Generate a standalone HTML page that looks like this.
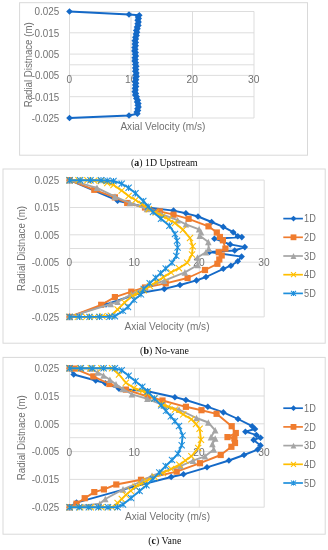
<!DOCTYPE html>
<html><head><meta charset="utf-8"><title>Figure</title>
<style>
html,body{margin:0;padding:0;background:#fff;}
svg{display:block;}
svg text{font-family:"Liberation Sans",sans-serif;fill:#727272;}
</style></head><body>
<svg width="328" height="550" viewBox="0 0 328 550">
<rect width="328" height="550" fill="#fff"/>
<rect x="19.6" y="2.7" width="287.9" height="152.5" fill="#fff" stroke="#d9d9d9" stroke-width="1"/>
<line x1="69.5" y1="11.5" x2="254.0" y2="11.5" stroke="#d9d9d9" stroke-width="0.9"/>
<line x1="69.5" y1="32.8" x2="254.0" y2="32.8" stroke="#d9d9d9" stroke-width="0.9"/>
<line x1="69.5" y1="54.1" x2="254.0" y2="54.1" stroke="#d9d9d9" stroke-width="0.9"/>
<line x1="69.5" y1="75.4" x2="254.0" y2="75.4" stroke="#d9d9d9" stroke-width="0.9"/>
<line x1="69.5" y1="96.7" x2="254.0" y2="96.7" stroke="#d9d9d9" stroke-width="0.9"/>
<line x1="69.5" y1="118.0" x2="254.0" y2="118.0" stroke="#d9d9d9" stroke-width="0.9"/>
<line x1="69.5" y1="64.8" x2="254.0" y2="64.8" stroke="#d9d9d9" stroke-width="0.9"/>
<line x1="69.5" y1="11.5" x2="69.5" y2="118.0" stroke="#d9d9d9" stroke-width="0.9"/>
<line x1="131.0" y1="11.5" x2="131.0" y2="118.0" stroke="#d9d9d9" stroke-width="0.9"/>
<line x1="192.5" y1="11.5" x2="192.5" y2="118.0" stroke="#d9d9d9" stroke-width="0.9"/>
<line x1="254.0" y1="11.5" x2="254.0" y2="118.0" stroke="#d9d9d9" stroke-width="0.9"/>
<text x="59.3" y="15.2" text-anchor="end" font-size="10.20" textLength="24.7" lengthAdjust="spacingAndGlyphs">0.025</text>
<text x="59.3" y="36.5" text-anchor="end" font-size="10.20" textLength="24.7" lengthAdjust="spacingAndGlyphs">0.015</text>
<text x="59.3" y="57.9" text-anchor="end" font-size="10.20" textLength="24.7" lengthAdjust="spacingAndGlyphs">0.005</text>
<text x="59.3" y="79.2" text-anchor="end" font-size="10.20" textLength="27.6" lengthAdjust="spacingAndGlyphs">-0.005</text>
<text x="59.3" y="100.5" text-anchor="end" font-size="10.20" textLength="27.6" lengthAdjust="spacingAndGlyphs">-0.015</text>
<text x="59.3" y="121.8" text-anchor="end" font-size="10.20" textLength="27.6" lengthAdjust="spacingAndGlyphs">-0.025</text>
<text x="69.2" y="82.7" text-anchor="middle" font-size="10.20" textLength="5.6" lengthAdjust="spacingAndGlyphs">0</text>
<text x="130.7" y="82.7" text-anchor="middle" font-size="10.20" textLength="11.4" lengthAdjust="spacingAndGlyphs">10</text>
<text x="192.2" y="82.7" text-anchor="middle" font-size="10.20" textLength="11.4" lengthAdjust="spacingAndGlyphs">20</text>
<text x="253.7" y="82.7" text-anchor="middle" font-size="10.20" textLength="11.4" lengthAdjust="spacingAndGlyphs">30</text>
<text x="120.4" y="130.3" text-anchor="start" font-size="10.20" textLength="85.0" lengthAdjust="spacingAndGlyphs">Axial Velocity (m/s)</text>
<text transform="translate(31.6 64.8) rotate(-90)" text-anchor="middle" font-size="10.20" textLength="85" lengthAdjust="spacingAndGlyphs">Radial Distnace (m)</text>
<polyline fill="none" stroke="#1469c7" stroke-width="1.90" stroke-linejoin="round" stroke-linecap="round" points="69.5,11.5 129.0,14.5 139.3,15.2 138.0,16.9 138.7,18.6 137.6,20.3 138.6,22.0 137.6,23.7 138.4,25.4 137.0,27.1 137.5,28.8 136.2,30.5 137.1,32.2 135.9,33.9 136.6,35.6 135.3,37.3 135.9,39.0 134.7,40.7 135.8,42.4 134.8,44.1 135.7,45.8 134.6,47.5 135.4,49.2 134.4,50.9 135.7,52.6 134.9,54.3 135.9,56.0 134.7,57.7 135.5,59.4 134.6,61.1 135.9,62.8 135.2,64.5 136.3,66.2 135.2,67.9 136.1,69.6 135.2,71.3 136.4,73.0 135.7,74.7 136.6,76.4 135.4,78.1 136.1,79.8 135.0,81.5 136.1,83.2 135.2,84.9 136.1,86.6 134.9,88.3 135.6,90.0 134.7,91.7 135.9,93.4 135.2,95.1 136.8,96.8 136.3,98.5 137.9,100.2 137.1,101.9 138.4,103.6 137.7,105.3 138.6,107.0 137.4,108.7 138.0,110.4 136.8,112.1 137.4,113.8 129.0,115.5 69.5,118.0"/>
<path fill="#1469c7" d="M66.2 11.5L69.5 8.2L72.8 11.5L69.5 14.8Z"/>
<path fill="#1469c7" d="M125.7 14.5L129.0 11.2L132.3 14.5L129.0 17.8Z"/>
<path fill="#1469c7" d="M136.0 15.2L139.3 11.9L142.6 15.2L139.3 18.5Z"/>
<path fill="#1469c7" d="M134.7 16.9L138.0 13.6L141.3 16.9L138.0 20.2Z"/>
<path fill="#1469c7" d="M135.4 18.6L138.7 15.3L142.0 18.6L138.7 21.9Z"/>
<path fill="#1469c7" d="M134.3 20.3L137.6 17.0L140.9 20.3L137.6 23.6Z"/>
<path fill="#1469c7" d="M135.3 22.0L138.6 18.7L141.9 22.0L138.6 25.3Z"/>
<path fill="#1469c7" d="M134.3 23.7L137.6 20.4L140.9 23.7L137.6 27.0Z"/>
<path fill="#1469c7" d="M135.1 25.4L138.4 22.1L141.7 25.4L138.4 28.7Z"/>
<path fill="#1469c7" d="M133.7 27.1L137.0 23.8L140.3 27.1L137.0 30.4Z"/>
<path fill="#1469c7" d="M134.2 28.8L137.5 25.5L140.8 28.8L137.5 32.1Z"/>
<path fill="#1469c7" d="M132.9 30.5L136.2 27.2L139.5 30.5L136.2 33.8Z"/>
<path fill="#1469c7" d="M133.8 32.2L137.1 28.9L140.4 32.2L137.1 35.5Z"/>
<path fill="#1469c7" d="M132.6 33.9L135.9 30.6L139.2 33.9L135.9 37.2Z"/>
<path fill="#1469c7" d="M133.3 35.6L136.6 32.3L139.9 35.6L136.6 38.9Z"/>
<path fill="#1469c7" d="M132.0 37.3L135.3 34.0L138.6 37.3L135.3 40.6Z"/>
<path fill="#1469c7" d="M132.6 39.0L135.9 35.7L139.2 39.0L135.9 42.3Z"/>
<path fill="#1469c7" d="M131.4 40.7L134.7 37.4L138.0 40.7L134.7 44.0Z"/>
<path fill="#1469c7" d="M132.5 42.4L135.8 39.1L139.1 42.4L135.8 45.7Z"/>
<path fill="#1469c7" d="M131.5 44.1L134.8 40.8L138.1 44.1L134.8 47.4Z"/>
<path fill="#1469c7" d="M132.4 45.8L135.7 42.5L139.0 45.8L135.7 49.1Z"/>
<path fill="#1469c7" d="M131.2 47.5L134.6 44.2L137.9 47.5L134.6 50.8Z"/>
<path fill="#1469c7" d="M132.1 49.2L135.4 45.9L138.7 49.2L135.4 52.5Z"/>
<path fill="#1469c7" d="M131.1 50.9L134.4 47.6L137.7 50.9L134.4 54.2Z"/>
<path fill="#1469c7" d="M132.4 52.6L135.7 49.3L139.0 52.6L135.7 55.9Z"/>
<path fill="#1469c7" d="M131.6 54.3L134.9 51.0L138.2 54.3L134.9 57.6Z"/>
<path fill="#1469c7" d="M132.6 56.0L135.9 52.7L139.2 56.0L135.9 59.3Z"/>
<path fill="#1469c7" d="M131.4 57.7L134.7 54.4L138.0 57.7L134.7 61.0Z"/>
<path fill="#1469c7" d="M132.2 59.4L135.5 56.1L138.8 59.4L135.5 62.7Z"/>
<path fill="#1469c7" d="M131.3 61.1L134.6 57.8L137.9 61.1L134.6 64.4Z"/>
<path fill="#1469c7" d="M132.6 62.8L135.9 59.5L139.2 62.8L135.9 66.1Z"/>
<path fill="#1469c7" d="M131.9 64.5L135.2 61.2L138.5 64.5L135.2 67.8Z"/>
<path fill="#1469c7" d="M133.0 66.2L136.3 62.9L139.6 66.2L136.3 69.5Z"/>
<path fill="#1469c7" d="M131.9 67.9L135.2 64.6L138.5 67.9L135.2 71.2Z"/>
<path fill="#1469c7" d="M132.8 69.6L136.1 66.3L139.4 69.6L136.1 72.9Z"/>
<path fill="#1469c7" d="M131.9 71.3L135.2 68.0L138.5 71.3L135.2 74.6Z"/>
<path fill="#1469c7" d="M133.1 73.0L136.4 69.7L139.7 73.0L136.4 76.3Z"/>
<path fill="#1469c7" d="M132.4 74.7L135.7 71.4L139.0 74.7L135.7 78.0Z"/>
<path fill="#1469c7" d="M133.3 76.4L136.6 73.1L139.9 76.4L136.6 79.7Z"/>
<path fill="#1469c7" d="M132.1 78.1L135.4 74.8L138.7 78.1L135.4 81.4Z"/>
<path fill="#1469c7" d="M132.8 79.8L136.1 76.5L139.4 79.8L136.1 83.1Z"/>
<path fill="#1469c7" d="M131.7 81.5L135.0 78.2L138.3 81.5L135.0 84.8Z"/>
<path fill="#1469c7" d="M132.8 83.2L136.1 79.9L139.4 83.2L136.1 86.5Z"/>
<path fill="#1469c7" d="M131.9 84.9L135.2 81.6L138.5 84.9L135.2 88.2Z"/>
<path fill="#1469c7" d="M132.8 86.6L136.1 83.3L139.4 86.6L136.1 89.9Z"/>
<path fill="#1469c7" d="M131.6 88.3L134.9 85.0L138.2 88.3L134.9 91.6Z"/>
<path fill="#1469c7" d="M132.3 90.0L135.6 86.7L138.9 90.0L135.6 93.3Z"/>
<path fill="#1469c7" d="M131.4 91.7L134.7 88.4L138.0 91.7L134.7 95.0Z"/>
<path fill="#1469c7" d="M132.6 93.4L135.9 90.1L139.2 93.4L135.9 96.7Z"/>
<path fill="#1469c7" d="M131.9 95.1L135.2 91.8L138.5 95.1L135.2 98.4Z"/>
<path fill="#1469c7" d="M133.5 96.8L136.8 93.5L140.1 96.8L136.8 100.1Z"/>
<path fill="#1469c7" d="M133.0 98.5L136.3 95.2L139.6 98.5L136.3 101.8Z"/>
<path fill="#1469c7" d="M134.6 100.2L137.9 96.9L141.2 100.2L137.9 103.5Z"/>
<path fill="#1469c7" d="M133.8 101.9L137.1 98.6L140.4 101.9L137.1 105.2Z"/>
<path fill="#1469c7" d="M135.1 103.6L138.4 100.3L141.7 103.6L138.4 106.9Z"/>
<path fill="#1469c7" d="M134.4 105.3L137.7 102.0L141.0 105.3L137.7 108.6Z"/>
<path fill="#1469c7" d="M135.3 107.0L138.6 103.7L141.9 107.0L138.6 110.3Z"/>
<path fill="#1469c7" d="M134.1 108.7L137.4 105.4L140.7 108.7L137.4 112.0Z"/>
<path fill="#1469c7" d="M134.7 110.4L138.0 107.1L141.3 110.4L138.0 113.7Z"/>
<path fill="#1469c7" d="M133.4 112.1L136.8 108.8L140.1 112.1L136.8 115.4Z"/>
<path fill="#1469c7" d="M134.1 113.8L137.4 110.5L140.7 113.8L137.4 117.1Z"/>
<path fill="#1469c7" d="M125.7 115.5L129.0 112.2L132.3 115.5L129.0 118.8Z"/>
<path fill="#1469c7" d="M66.2 118.0L69.5 114.7L72.8 118.0L69.5 121.3Z"/>
<rect x="3.0" y="169.0" width="322.2" height="174.2" fill="#fff" stroke="#d9d9d9" stroke-width="1"/>
<line x1="69.6" y1="180.1" x2="264.2" y2="180.1" stroke="#d9d9d9" stroke-width="0.9"/>
<line x1="69.6" y1="207.5" x2="264.2" y2="207.5" stroke="#d9d9d9" stroke-width="0.9"/>
<line x1="69.6" y1="234.8" x2="264.2" y2="234.8" stroke="#d9d9d9" stroke-width="0.9"/>
<line x1="69.6" y1="262.2" x2="264.2" y2="262.2" stroke="#d9d9d9" stroke-width="0.9"/>
<line x1="69.6" y1="289.5" x2="264.2" y2="289.5" stroke="#d9d9d9" stroke-width="0.9"/>
<line x1="69.6" y1="316.9" x2="264.2" y2="316.9" stroke="#d9d9d9" stroke-width="0.9"/>
<line x1="69.6" y1="248.5" x2="264.2" y2="248.5" stroke="#d9d9d9" stroke-width="0.9"/>
<line x1="69.6" y1="180.1" x2="69.6" y2="316.9" stroke="#d9d9d9" stroke-width="0.9"/>
<line x1="134.5" y1="180.1" x2="134.5" y2="316.9" stroke="#d9d9d9" stroke-width="0.9"/>
<line x1="199.3" y1="180.1" x2="199.3" y2="316.9" stroke="#d9d9d9" stroke-width="0.9"/>
<line x1="264.2" y1="180.1" x2="264.2" y2="316.9" stroke="#d9d9d9" stroke-width="0.9"/>
<text x="59.3" y="183.8" text-anchor="end" font-size="10.20" textLength="24.7" lengthAdjust="spacingAndGlyphs">0.025</text>
<text x="59.3" y="211.2" text-anchor="end" font-size="10.20" textLength="24.7" lengthAdjust="spacingAndGlyphs">0.015</text>
<text x="59.3" y="238.6" text-anchor="end" font-size="10.20" textLength="24.7" lengthAdjust="spacingAndGlyphs">0.005</text>
<text x="59.3" y="265.9" text-anchor="end" font-size="10.20" textLength="27.6" lengthAdjust="spacingAndGlyphs">-0.005</text>
<text x="59.3" y="293.3" text-anchor="end" font-size="10.20" textLength="27.6" lengthAdjust="spacingAndGlyphs">-0.015</text>
<text x="59.3" y="320.6" text-anchor="end" font-size="10.20" textLength="27.6" lengthAdjust="spacingAndGlyphs">-0.025</text>
<text x="69.3" y="266.4" text-anchor="middle" font-size="10.20" textLength="5.6" lengthAdjust="spacingAndGlyphs">0</text>
<text x="134.2" y="266.4" text-anchor="middle" font-size="10.20" textLength="11.4" lengthAdjust="spacingAndGlyphs">10</text>
<text x="199.0" y="266.4" text-anchor="middle" font-size="10.20" textLength="11.4" lengthAdjust="spacingAndGlyphs">20</text>
<text x="263.9" y="266.4" text-anchor="middle" font-size="10.20" textLength="11.4" lengthAdjust="spacingAndGlyphs">30</text>
<text x="124.5" y="329.7" text-anchor="start" font-size="10.20" textLength="85.0" lengthAdjust="spacingAndGlyphs">Axial Velocity (m/s)</text>
<text transform="translate(24.7 248.5) rotate(-90)" text-anchor="middle" font-size="10.20" textLength="85" lengthAdjust="spacingAndGlyphs">Radial Distnace (m)</text>
<polyline fill="none" stroke="#1469c7" stroke-width="1.90" stroke-linejoin="round" stroke-linecap="round" points="69.6,180.2 117.6,200.7 147.4,207.5 173.5,210.6 185.9,213.3 198.0,216.5 211.6,222.0 223.3,226.9 233.2,232.2 237.8,236.3 241.8,237.1 214.4,238.7 230.2,244.4 244.8,247.1 234.7,250.5 209.5,252.0 241.6,256.6 237.8,261.2 230.9,265.7 223.3,268.8 206.0,277.0 196.5,280.4 180.0,285.0 164.3,288.9 140.0,293.0 106.0,304.5 69.6,316.9"/>
<path fill="#1469c7" d="M66.3 180.2L69.6 176.9L72.9 180.2L69.6 183.5Z"/>
<path fill="#1469c7" d="M114.3 200.7L117.6 197.4L120.9 200.7L117.6 204.0Z"/>
<path fill="#1469c7" d="M144.1 207.5L147.4 204.2L150.7 207.5L147.4 210.8Z"/>
<path fill="#1469c7" d="M170.2 210.6L173.5 207.3L176.8 210.6L173.5 213.9Z"/>
<path fill="#1469c7" d="M182.6 213.3L185.9 210.0L189.2 213.3L185.9 216.6Z"/>
<path fill="#1469c7" d="M194.7 216.5L198.0 213.2L201.3 216.5L198.0 219.8Z"/>
<path fill="#1469c7" d="M208.3 222.0L211.6 218.7L214.9 222.0L211.6 225.3Z"/>
<path fill="#1469c7" d="M220.0 226.9L223.3 223.6L226.6 226.9L223.3 230.2Z"/>
<path fill="#1469c7" d="M229.9 232.2L233.2 228.9L236.5 232.2L233.2 235.5Z"/>
<path fill="#1469c7" d="M234.5 236.3L237.8 233.0L241.1 236.3L237.8 239.6Z"/>
<path fill="#1469c7" d="M238.5 237.1L241.8 233.8L245.1 237.1L241.8 240.4Z"/>
<path fill="#1469c7" d="M211.1 238.7L214.4 235.4L217.7 238.7L214.4 242.0Z"/>
<path fill="#1469c7" d="M226.9 244.4L230.2 241.1L233.5 244.4L230.2 247.7Z"/>
<path fill="#1469c7" d="M241.5 247.1L244.8 243.8L248.1 247.1L244.8 250.4Z"/>
<path fill="#1469c7" d="M231.4 250.5L234.7 247.2L238.0 250.5L234.7 253.8Z"/>
<path fill="#1469c7" d="M206.2 252.0L209.5 248.7L212.8 252.0L209.5 255.3Z"/>
<path fill="#1469c7" d="M238.3 256.6L241.6 253.3L244.9 256.6L241.6 259.9Z"/>
<path fill="#1469c7" d="M234.5 261.2L237.8 257.9L241.1 261.2L237.8 264.5Z"/>
<path fill="#1469c7" d="M227.6 265.7L230.9 262.4L234.2 265.7L230.9 269.0Z"/>
<path fill="#1469c7" d="M220.0 268.8L223.3 265.5L226.6 268.8L223.3 272.1Z"/>
<path fill="#1469c7" d="M202.7 277.0L206.0 273.7L209.3 277.0L206.0 280.3Z"/>
<path fill="#1469c7" d="M193.2 280.4L196.5 277.1L199.8 280.4L196.5 283.7Z"/>
<path fill="#1469c7" d="M176.7 285.0L180.0 281.7L183.3 285.0L180.0 288.3Z"/>
<path fill="#1469c7" d="M161.0 288.9L164.3 285.6L167.6 288.9L164.3 292.2Z"/>
<path fill="#1469c7" d="M136.7 293.0L140.0 289.7L143.3 293.0L140.0 296.3Z"/>
<path fill="#1469c7" d="M102.7 304.5L106.0 301.2L109.3 304.5L106.0 307.8Z"/>
<path fill="#1469c7" d="M66.3 316.9L69.6 313.6L72.9 316.9L69.6 320.2Z"/>
<polyline fill="none" stroke="#f07c2e" stroke-width="1.90" stroke-linejoin="round" stroke-linecap="round" points="69.6,180.2 94.3,189.8 114.9,197.4 127.2,203.0 145.0,207.5 159.8,211.4 173.5,214.7 188.6,218.8 208.5,226.3 216.8,232.5 219.9,237.0 222.9,240.3 225.4,248.6 218.7,252.2 221.7,255.5 219.3,259.5 217.4,263.8 205.0,270.0 187.6,278.0 165.7,283.4 145.0,287.5 131.3,291.7 114.9,297.1 101.2,304.8 69.6,316.9"/>
<rect fill="#f07c2e" x="66.5" y="177.1" width="6.2" height="6.2"/>
<rect fill="#f07c2e" x="91.2" y="186.7" width="6.2" height="6.2"/>
<rect fill="#f07c2e" x="111.8" y="194.3" width="6.2" height="6.2"/>
<rect fill="#f07c2e" x="124.1" y="199.9" width="6.2" height="6.2"/>
<rect fill="#f07c2e" x="141.9" y="204.4" width="6.2" height="6.2"/>
<rect fill="#f07c2e" x="156.7" y="208.3" width="6.2" height="6.2"/>
<rect fill="#f07c2e" x="170.4" y="211.6" width="6.2" height="6.2"/>
<rect fill="#f07c2e" x="185.5" y="215.7" width="6.2" height="6.2"/>
<rect fill="#f07c2e" x="205.4" y="223.2" width="6.2" height="6.2"/>
<rect fill="#f07c2e" x="213.7" y="229.4" width="6.2" height="6.2"/>
<rect fill="#f07c2e" x="216.8" y="233.9" width="6.2" height="6.2"/>
<rect fill="#f07c2e" x="219.8" y="237.2" width="6.2" height="6.2"/>
<rect fill="#f07c2e" x="222.3" y="245.5" width="6.2" height="6.2"/>
<rect fill="#f07c2e" x="215.6" y="249.1" width="6.2" height="6.2"/>
<rect fill="#f07c2e" x="218.6" y="252.4" width="6.2" height="6.2"/>
<rect fill="#f07c2e" x="216.2" y="256.4" width="6.2" height="6.2"/>
<rect fill="#f07c2e" x="214.3" y="260.7" width="6.2" height="6.2"/>
<rect fill="#f07c2e" x="201.9" y="266.9" width="6.2" height="6.2"/>
<rect fill="#f07c2e" x="184.5" y="274.9" width="6.2" height="6.2"/>
<rect fill="#f07c2e" x="162.6" y="280.3" width="6.2" height="6.2"/>
<rect fill="#f07c2e" x="141.9" y="284.4" width="6.2" height="6.2"/>
<rect fill="#f07c2e" x="128.2" y="288.6" width="6.2" height="6.2"/>
<rect fill="#f07c2e" x="111.8" y="294.0" width="6.2" height="6.2"/>
<rect fill="#f07c2e" x="98.1" y="301.7" width="6.2" height="6.2"/>
<rect fill="#f07c2e" x="66.5" y="313.8" width="6.2" height="6.2"/>
<polyline fill="none" stroke="#a5a5a5" stroke-width="1.90" stroke-linejoin="round" stroke-linecap="round" points="69.6,180.2 97.0,187.8 115.0,196.6 130.0,203.0 147.0,209.0 161.0,214.0 177.6,220.2 185.9,224.3 199.1,229.3 201.0,232.3 199.8,235.8 208.3,242.0 208.7,248.8 205.9,252.2 197.5,257.5 197.8,265.0 184.9,272.4 164.3,280.7 145.0,287.5 131.3,294.4 117.6,301.8 110.8,304.0 69.6,316.9"/>
<path fill="#a5a5a5" d="M69.6 176.9L72.9 183.5L66.3 183.5Z"/>
<path fill="#a5a5a5" d="M97.0 184.5L100.3 191.1L93.7 191.1Z"/>
<path fill="#a5a5a5" d="M115.0 193.3L118.3 199.9L111.7 199.9Z"/>
<path fill="#a5a5a5" d="M130.0 199.7L133.3 206.3L126.7 206.3Z"/>
<path fill="#a5a5a5" d="M147.0 205.7L150.3 212.3L143.7 212.3Z"/>
<path fill="#a5a5a5" d="M161.0 210.7L164.3 217.3L157.7 217.3Z"/>
<path fill="#a5a5a5" d="M177.6 216.9L180.9 223.5L174.3 223.5Z"/>
<path fill="#a5a5a5" d="M185.9 221.0L189.2 227.6L182.6 227.6Z"/>
<path fill="#a5a5a5" d="M199.1 226.0L202.4 232.6L195.8 232.6Z"/>
<path fill="#a5a5a5" d="M201.0 229.0L204.3 235.6L197.7 235.6Z"/>
<path fill="#a5a5a5" d="M199.8 232.5L203.1 239.1L196.5 239.1Z"/>
<path fill="#a5a5a5" d="M208.3 238.7L211.6 245.3L205.0 245.3Z"/>
<path fill="#a5a5a5" d="M208.7 245.5L212.0 252.1L205.4 252.1Z"/>
<path fill="#a5a5a5" d="M205.9 248.9L209.2 255.5L202.6 255.5Z"/>
<path fill="#a5a5a5" d="M197.5 254.2L200.8 260.8L194.2 260.8Z"/>
<path fill="#a5a5a5" d="M197.8 261.7L201.1 268.3L194.5 268.3Z"/>
<path fill="#a5a5a5" d="M184.9 269.1L188.2 275.7L181.6 275.7Z"/>
<path fill="#a5a5a5" d="M164.3 277.4L167.6 284.0L161.0 284.0Z"/>
<path fill="#a5a5a5" d="M145.0 284.2L148.3 290.8L141.7 290.8Z"/>
<path fill="#a5a5a5" d="M131.3 291.1L134.6 297.7L128.0 297.7Z"/>
<path fill="#a5a5a5" d="M117.6 298.5L120.9 305.1L114.3 305.1Z"/>
<path fill="#a5a5a5" d="M110.8 300.7L114.1 307.3L107.5 307.3Z"/>
<path fill="#a5a5a5" d="M69.6 313.6L72.9 320.2L66.3 320.2Z"/>
<polyline fill="none" stroke="#ffbe00" stroke-width="1.90" stroke-linejoin="round" stroke-linecap="round" points="69.6,180.2 87.4,180.2 101.0,181.0 113.5,185.0 121.7,190.6 128.6,196.0 135.5,200.0 142.0,204.0 148.8,209.2 162.5,216.0 175.0,223.0 183.0,229.8 190.0,238.0 192.7,246.3 192.0,254.5 187.2,262.7 179.0,268.2 171.0,272.4 156.0,282.0 143.7,290.3 132.7,295.8 124.5,302.6 117.6,309.5 110.8,315.8 94.3,316.9 69.6,316.9"/>
<path fill="none" stroke="#ffbe00" stroke-width="1.05" d="M66.5 177.1L72.7 183.3M66.5 183.3L72.7 177.1"/>
<path fill="none" stroke="#ffbe00" stroke-width="1.05" d="M75.4 177.1L81.6 183.3M75.4 183.3L81.6 177.1"/>
<path fill="none" stroke="#ffbe00" stroke-width="1.05" d="M84.3 177.1L90.5 183.3M84.3 183.3L90.5 177.1"/>
<path fill="none" stroke="#ffbe00" stroke-width="1.05" d="M91.1 177.5L97.3 183.7M91.1 183.7L97.3 177.5"/>
<path fill="none" stroke="#ffbe00" stroke-width="1.05" d="M97.9 177.9L104.1 184.1M97.9 184.1L104.1 177.9"/>
<path fill="none" stroke="#ffbe00" stroke-width="1.05" d="M104.2 179.9L110.3 186.1M104.2 186.1L110.3 179.9"/>
<path fill="none" stroke="#ffbe00" stroke-width="1.05" d="M110.4 181.9L116.6 188.1M110.4 188.1L116.6 181.9"/>
<path fill="none" stroke="#ffbe00" stroke-width="1.05" d="M118.6 187.5L124.8 193.7M118.6 193.7L124.8 187.5"/>
<path fill="none" stroke="#ffbe00" stroke-width="1.05" d="M125.5 192.9L131.7 199.1M125.5 199.1L131.7 192.9"/>
<path fill="none" stroke="#ffbe00" stroke-width="1.05" d="M132.4 196.9L138.6 203.1M132.4 203.1L138.6 196.9"/>
<path fill="none" stroke="#ffbe00" stroke-width="1.05" d="M138.9 200.9L145.1 207.1M138.9 207.1L145.1 200.9"/>
<path fill="none" stroke="#ffbe00" stroke-width="1.05" d="M145.7 206.1L151.9 212.3M145.7 212.3L151.9 206.1"/>
<path fill="none" stroke="#ffbe00" stroke-width="1.05" d="M152.6 209.5L158.8 215.7M152.6 215.7L158.8 209.5"/>
<path fill="none" stroke="#ffbe00" stroke-width="1.05" d="M159.4 212.9L165.6 219.1M159.4 219.1L165.6 212.9"/>
<path fill="none" stroke="#ffbe00" stroke-width="1.05" d="M165.7 216.4L171.8 222.6M165.7 222.6L171.8 216.4"/>
<path fill="none" stroke="#ffbe00" stroke-width="1.05" d="M171.9 219.9L178.1 226.1M171.9 226.1L178.1 219.9"/>
<path fill="none" stroke="#ffbe00" stroke-width="1.05" d="M179.9 226.7L186.1 232.9M179.9 232.9L186.1 226.7"/>
<path fill="none" stroke="#ffbe00" stroke-width="1.05" d="M186.9 234.9L193.1 241.1M186.9 241.1L193.1 234.9"/>
<path fill="none" stroke="#ffbe00" stroke-width="1.05" d="M189.6 243.2L195.8 249.4M189.6 249.4L195.8 243.2"/>
<path fill="none" stroke="#ffbe00" stroke-width="1.05" d="M188.9 251.4L195.1 257.6M188.9 257.6L195.1 251.4"/>
<path fill="none" stroke="#ffbe00" stroke-width="1.05" d="M184.1 259.6L190.3 265.8M184.1 265.8L190.3 259.6"/>
<path fill="none" stroke="#ffbe00" stroke-width="1.05" d="M175.9 265.1L182.1 271.3M175.9 271.3L182.1 265.1"/>
<path fill="none" stroke="#ffbe00" stroke-width="1.05" d="M167.9 269.3L174.1 275.5M167.9 275.5L174.1 269.3"/>
<path fill="none" stroke="#ffbe00" stroke-width="1.05" d="M160.4 274.1L166.6 280.3M160.4 280.3L166.6 274.1"/>
<path fill="none" stroke="#ffbe00" stroke-width="1.05" d="M152.9 278.9L159.1 285.1M152.9 285.1L159.1 278.9"/>
<path fill="none" stroke="#ffbe00" stroke-width="1.05" d="M146.8 283.0L152.9 289.2M146.8 289.2L152.9 283.0"/>
<path fill="none" stroke="#ffbe00" stroke-width="1.05" d="M140.6 287.2L146.8 293.4M140.6 293.4L146.8 287.2"/>
<path fill="none" stroke="#ffbe00" stroke-width="1.05" d="M135.1 289.9L141.3 296.2M135.1 296.2L141.3 289.9"/>
<path fill="none" stroke="#ffbe00" stroke-width="1.05" d="M129.6 292.7L135.8 298.9M129.6 298.9L135.8 292.7"/>
<path fill="none" stroke="#ffbe00" stroke-width="1.05" d="M121.4 299.5L127.6 305.7M121.4 305.7L127.6 299.5"/>
<path fill="none" stroke="#ffbe00" stroke-width="1.05" d="M114.5 306.4L120.7 312.6M114.5 312.6L120.7 306.4"/>
<path fill="none" stroke="#ffbe00" stroke-width="1.05" d="M107.7 312.7L113.9 318.9M107.7 318.9L113.9 312.7"/>
<path fill="none" stroke="#ffbe00" stroke-width="1.05" d="M99.5 313.2L105.6 319.5M99.5 319.5L105.6 313.2"/>
<path fill="none" stroke="#ffbe00" stroke-width="1.05" d="M91.2 313.8L97.4 320.0M91.2 320.0L97.4 313.8"/>
<path fill="none" stroke="#ffbe00" stroke-width="1.05" d="M83.0 313.8L89.2 320.0M83.0 320.0L89.2 313.8"/>
<path fill="none" stroke="#ffbe00" stroke-width="1.05" d="M74.7 313.8L80.9 320.0M74.7 320.0L80.9 313.8"/>
<path fill="none" stroke="#ffbe00" stroke-width="1.05" d="M66.5 313.8L72.7 320.0M66.5 320.0L72.7 313.8"/>
<polyline fill="none" stroke="#1e8fdc" stroke-width="1.90" stroke-linejoin="round" stroke-linecap="round" points="69.6,180.2 101.0,180.2 113.5,181.0 121.7,183.7 128.6,187.8 135.5,193.3 143.3,201.0 153.0,212.0 161.0,218.8 169.4,225.7 175.0,234.0 177.0,240.8 177.6,247.6 176.3,255.9 172.0,262.7 165.7,268.5 155.7,277.8 143.7,288.9 141.0,294.4 134.0,299.9 128.0,307.0 123.0,310.9 114.9,316.3 109.4,316.9 69.6,316.9"/>
<path fill="none" stroke="#1e8fdc" stroke-width="1.05" d="M66.5 177.1L72.7 183.3M66.5 183.3L72.7 177.1M69.6 177.1L69.6 183.3"/>
<path fill="none" stroke="#1e8fdc" stroke-width="1.05" d="M77.0 177.1L83.2 183.3M77.0 183.3L83.2 177.1M80.1 177.1L80.1 183.3"/>
<path fill="none" stroke="#1e8fdc" stroke-width="1.05" d="M87.4 177.1L93.6 183.3M87.4 183.3L93.6 177.1M90.5 177.1L90.5 183.3"/>
<path fill="none" stroke="#1e8fdc" stroke-width="1.05" d="M97.9 177.1L104.1 183.3M97.9 183.3L104.1 177.1M101.0 177.1L101.0 183.3"/>
<path fill="none" stroke="#1e8fdc" stroke-width="1.05" d="M104.2 177.5L110.3 183.7M104.2 183.7L110.3 177.5M107.2 177.5L107.2 183.7"/>
<path fill="none" stroke="#1e8fdc" stroke-width="1.05" d="M110.4 177.9L116.6 184.1M110.4 184.1L116.6 177.9M113.5 177.9L113.5 184.1"/>
<path fill="none" stroke="#1e8fdc" stroke-width="1.05" d="M118.6 180.6L124.8 186.8M118.6 186.8L124.8 180.6M121.7 180.6L121.7 186.8"/>
<path fill="none" stroke="#1e8fdc" stroke-width="1.05" d="M125.5 184.7L131.7 190.9M125.5 190.9L131.7 184.7M128.6 184.7L128.6 190.9"/>
<path fill="none" stroke="#1e8fdc" stroke-width="1.05" d="M132.4 190.2L138.6 196.4M132.4 196.4L138.6 190.2M135.5 190.2L135.5 196.4"/>
<path fill="none" stroke="#1e8fdc" stroke-width="1.05" d="M140.2 197.9L146.4 204.1M140.2 204.1L146.4 197.9M143.3 197.9L143.3 204.1"/>
<path fill="none" stroke="#1e8fdc" stroke-width="1.05" d="M145.1 203.4L151.2 209.6M145.1 209.6L151.2 203.4M148.2 203.4L148.2 209.6"/>
<path fill="none" stroke="#1e8fdc" stroke-width="1.05" d="M149.9 208.9L156.1 215.1M149.9 215.1L156.1 208.9M153.0 208.9L153.0 215.1"/>
<path fill="none" stroke="#1e8fdc" stroke-width="1.05" d="M157.9 215.7L164.1 221.9M157.9 221.9L164.1 215.7M161.0 215.7L161.0 221.9"/>
<path fill="none" stroke="#1e8fdc" stroke-width="1.05" d="M166.3 222.6L172.5 228.8M166.3 228.8L172.5 222.6M169.4 222.6L169.4 228.8"/>
<path fill="none" stroke="#1e8fdc" stroke-width="1.05" d="M171.9 230.9L178.1 237.1M171.9 237.1L178.1 230.9M175.0 230.9L175.0 237.1"/>
<path fill="none" stroke="#1e8fdc" stroke-width="1.05" d="M173.9 237.7L180.1 243.9M173.9 243.9L180.1 237.7M177.0 237.7L177.0 243.9"/>
<path fill="none" stroke="#1e8fdc" stroke-width="1.05" d="M174.5 244.5L180.7 250.7M174.5 250.7L180.7 244.5M177.6 244.5L177.6 250.7"/>
<path fill="none" stroke="#1e8fdc" stroke-width="1.05" d="M173.2 252.8L179.4 259.0M173.2 259.0L179.4 252.8M176.3 252.8L176.3 259.0"/>
<path fill="none" stroke="#1e8fdc" stroke-width="1.05" d="M168.9 259.6L175.1 265.8M168.9 265.8L175.1 259.6M172.0 259.6L172.0 265.8"/>
<path fill="none" stroke="#1e8fdc" stroke-width="1.05" d="M162.6 265.4L168.8 271.6M162.6 271.6L168.8 265.4M165.7 265.4L165.7 271.6"/>
<path fill="none" stroke="#1e8fdc" stroke-width="1.05" d="M157.6 270.0L163.8 276.2M157.6 276.2L163.8 270.0M160.7 270.0L160.7 276.2"/>
<path fill="none" stroke="#1e8fdc" stroke-width="1.05" d="M152.6 274.7L158.8 280.9M152.6 280.9L158.8 274.7M155.7 274.7L155.7 280.9"/>
<path fill="none" stroke="#1e8fdc" stroke-width="1.05" d="M146.6 280.2L152.8 286.5M146.6 286.5L152.8 280.2M149.7 280.2L149.7 286.5"/>
<path fill="none" stroke="#1e8fdc" stroke-width="1.05" d="M140.6 285.8L146.8 292.0M140.6 292.0L146.8 285.8M143.7 285.8L143.7 292.0"/>
<path fill="none" stroke="#1e8fdc" stroke-width="1.05" d="M137.9 291.3L144.1 297.5M137.9 297.5L144.1 291.3M141.0 291.3L141.0 297.5"/>
<path fill="none" stroke="#1e8fdc" stroke-width="1.05" d="M130.9 296.8L137.1 303.0M130.9 303.0L137.1 296.8M134.0 296.8L134.0 303.0"/>
<path fill="none" stroke="#1e8fdc" stroke-width="1.05" d="M124.9 303.9L131.1 310.1M124.9 310.1L131.1 303.9M128.0 303.9L128.0 310.1"/>
<path fill="none" stroke="#1e8fdc" stroke-width="1.05" d="M119.9 307.8L126.1 314.0M119.9 314.0L126.1 307.8M123.0 307.8L123.0 314.0"/>
<path fill="none" stroke="#1e8fdc" stroke-width="1.05" d="M111.8 313.2L118.0 319.4M111.8 319.4L118.0 313.2M114.9 313.2L114.9 319.4"/>
<path fill="none" stroke="#1e8fdc" stroke-width="1.05" d="M106.3 313.8L112.5 320.0M106.3 320.0L112.5 313.8M109.4 313.8L109.4 320.0"/>
<path fill="none" stroke="#1e8fdc" stroke-width="1.05" d="M96.4 313.8L102.5 320.0M96.4 320.0L102.5 313.8M99.5 313.8L99.5 320.0"/>
<path fill="none" stroke="#1e8fdc" stroke-width="1.05" d="M86.4 313.8L92.6 320.0M86.4 320.0L92.6 313.8M89.5 313.8L89.5 320.0"/>
<path fill="none" stroke="#1e8fdc" stroke-width="1.05" d="M76.5 313.8L82.6 320.0M76.5 320.0L82.6 313.8M79.5 313.8L79.5 320.0"/>
<path fill="none" stroke="#1e8fdc" stroke-width="1.05" d="M66.5 313.8L72.7 320.0M66.5 320.0L72.7 313.8M69.6 313.8L69.6 320.0"/>
<line x1="283.3" y1="218.6" x2="302.9" y2="218.6" stroke="#1469c7" stroke-width="1.7"/>
<path fill="#1469c7" d="M290.6 218.6L293.5 215.7L296.4 218.6L293.5 221.5Z"/>
<text x="304.1" y="222.2" text-anchor="start" font-size="10.20" textLength="11.7" lengthAdjust="spacingAndGlyphs">1D</text>
<line x1="283.3" y1="237.3" x2="302.9" y2="237.3" stroke="#f07c2e" stroke-width="1.7"/>
<rect fill="#f07c2e" x="290.6" y="234.4" width="5.8" height="5.8"/>
<text x="304.1" y="240.9" text-anchor="start" font-size="10.20" textLength="11.7" lengthAdjust="spacingAndGlyphs">2D</text>
<line x1="283.3" y1="256.0" x2="302.9" y2="256.0" stroke="#a5a5a5" stroke-width="1.7"/>
<path fill="#a5a5a5" d="M293.5 253.1L296.4 258.9L290.6 258.9Z"/>
<text x="304.1" y="259.6" text-anchor="start" font-size="10.20" textLength="11.7" lengthAdjust="spacingAndGlyphs">3D</text>
<line x1="283.3" y1="274.7" x2="302.9" y2="274.7" stroke="#ffbe00" stroke-width="1.7"/>
<path fill="none" stroke="#ffbe00" stroke-width="1.05" d="M291.0 272.2L296.0 277.2M291.0 277.2L296.0 272.2"/>
<text x="304.1" y="278.3" text-anchor="start" font-size="10.20" textLength="11.7" lengthAdjust="spacingAndGlyphs">4D</text>
<line x1="283.3" y1="293.4" x2="302.9" y2="293.4" stroke="#1e8fdc" stroke-width="1.7"/>
<path fill="none" stroke="#1e8fdc" stroke-width="1.05" d="M291.0 290.9L296.0 295.9M291.0 295.9L296.0 290.9M293.5 290.9L293.5 295.9"/>
<text x="304.1" y="297.0" text-anchor="start" font-size="10.20" textLength="11.7" lengthAdjust="spacingAndGlyphs">5D</text>
<rect x="3.0" y="357.4" width="322.2" height="176.8" fill="#fff" stroke="#d9d9d9" stroke-width="1"/>
<line x1="69.6" y1="368.2" x2="264.2" y2="368.2" stroke="#d9d9d9" stroke-width="0.9"/>
<line x1="69.6" y1="396.0" x2="264.2" y2="396.0" stroke="#d9d9d9" stroke-width="0.9"/>
<line x1="69.6" y1="423.8" x2="264.2" y2="423.8" stroke="#d9d9d9" stroke-width="0.9"/>
<line x1="69.6" y1="451.6" x2="264.2" y2="451.6" stroke="#d9d9d9" stroke-width="0.9"/>
<line x1="69.6" y1="479.4" x2="264.2" y2="479.4" stroke="#d9d9d9" stroke-width="0.9"/>
<line x1="69.6" y1="507.2" x2="264.2" y2="507.2" stroke="#d9d9d9" stroke-width="0.9"/>
<line x1="69.6" y1="437.7" x2="264.2" y2="437.7" stroke="#d9d9d9" stroke-width="0.9"/>
<line x1="69.6" y1="368.2" x2="69.6" y2="507.2" stroke="#d9d9d9" stroke-width="0.9"/>
<line x1="134.5" y1="368.2" x2="134.5" y2="507.2" stroke="#d9d9d9" stroke-width="0.9"/>
<line x1="199.3" y1="368.2" x2="199.3" y2="507.2" stroke="#d9d9d9" stroke-width="0.9"/>
<line x1="264.2" y1="368.2" x2="264.2" y2="507.2" stroke="#d9d9d9" stroke-width="0.9"/>
<text x="59.3" y="371.9" text-anchor="end" font-size="10.20" textLength="24.7" lengthAdjust="spacingAndGlyphs">0.025</text>
<text x="59.3" y="399.8" text-anchor="end" font-size="10.20" textLength="24.7" lengthAdjust="spacingAndGlyphs">0.015</text>
<text x="59.3" y="427.6" text-anchor="end" font-size="10.20" textLength="24.7" lengthAdjust="spacingAndGlyphs">0.005</text>
<text x="59.3" y="455.4" text-anchor="end" font-size="10.20" textLength="27.6" lengthAdjust="spacingAndGlyphs">-0.005</text>
<text x="59.3" y="483.1" text-anchor="end" font-size="10.20" textLength="27.6" lengthAdjust="spacingAndGlyphs">-0.015</text>
<text x="59.3" y="510.9" text-anchor="end" font-size="10.20" textLength="27.6" lengthAdjust="spacingAndGlyphs">-0.025</text>
<text x="69.3" y="455.6" text-anchor="middle" font-size="10.20" textLength="5.6" lengthAdjust="spacingAndGlyphs">0</text>
<text x="134.2" y="455.6" text-anchor="middle" font-size="10.20" textLength="11.4" lengthAdjust="spacingAndGlyphs">10</text>
<text x="199.0" y="455.6" text-anchor="middle" font-size="10.20" textLength="11.4" lengthAdjust="spacingAndGlyphs">20</text>
<text x="263.9" y="455.6" text-anchor="middle" font-size="10.20" textLength="11.4" lengthAdjust="spacingAndGlyphs">30</text>
<text x="125.0" y="519.6" text-anchor="start" font-size="10.20" textLength="85.0" lengthAdjust="spacingAndGlyphs">Axial Velocity (m/s)</text>
<text transform="translate(24.7 437.7) rotate(-90)" text-anchor="middle" font-size="10.20" textLength="85" lengthAdjust="spacingAndGlyphs">Radial Distnace (m)</text>
<polyline fill="none" stroke="#1469c7" stroke-width="1.90" stroke-linejoin="round" stroke-linecap="round" points="69.6,368.2 73.7,374.5 95.7,380.5 105.3,383.2 119.0,388.7 147.5,391.3 174.9,397.2 185.9,400.0 207.8,406.8 223.4,412.4 238.0,419.0 252.2,426.2 255.0,429.0 245.4,431.7 256.4,435.0 260.5,437.7 253.6,439.9 260.5,445.4 257.7,449.5 244.0,455.0 228.9,460.5 207.0,467.3 183.5,474.3 171.2,477.0 134.0,486.7 76.5,502.6 69.6,507.2"/>
<path fill="#1469c7" d="M66.3 368.2L69.6 364.9L72.9 368.2L69.6 371.5Z"/>
<path fill="#1469c7" d="M70.4 374.5L73.7 371.2L77.0 374.5L73.7 377.8Z"/>
<path fill="#1469c7" d="M92.4 380.5L95.7 377.2L99.0 380.5L95.7 383.8Z"/>
<path fill="#1469c7" d="M102.0 383.2L105.3 379.9L108.6 383.2L105.3 386.5Z"/>
<path fill="#1469c7" d="M115.7 388.7L119.0 385.4L122.3 388.7L119.0 392.0Z"/>
<path fill="#1469c7" d="M144.2 391.3L147.5 388.0L150.8 391.3L147.5 394.6Z"/>
<path fill="#1469c7" d="M171.6 397.2L174.9 393.9L178.2 397.2L174.9 400.5Z"/>
<path fill="#1469c7" d="M182.6 400.0L185.9 396.7L189.2 400.0L185.9 403.3Z"/>
<path fill="#1469c7" d="M204.5 406.8L207.8 403.5L211.1 406.8L207.8 410.1Z"/>
<path fill="#1469c7" d="M220.1 412.4L223.4 409.1L226.7 412.4L223.4 415.7Z"/>
<path fill="#1469c7" d="M234.7 419.0L238.0 415.7L241.3 419.0L238.0 422.3Z"/>
<path fill="#1469c7" d="M248.9 426.2L252.2 422.9L255.5 426.2L252.2 429.5Z"/>
<path fill="#1469c7" d="M251.7 429.0L255.0 425.7L258.3 429.0L255.0 432.3Z"/>
<path fill="#1469c7" d="M242.1 431.7L245.4 428.4L248.7 431.7L245.4 435.0Z"/>
<path fill="#1469c7" d="M253.1 435.0L256.4 431.7L259.7 435.0L256.4 438.3Z"/>
<path fill="#1469c7" d="M257.2 437.7L260.5 434.4L263.8 437.7L260.5 441.0Z"/>
<path fill="#1469c7" d="M250.3 439.9L253.6 436.6L256.9 439.9L253.6 443.2Z"/>
<path fill="#1469c7" d="M257.2 445.4L260.5 442.1L263.8 445.4L260.5 448.7Z"/>
<path fill="#1469c7" d="M254.4 449.5L257.7 446.2L261.0 449.5L257.7 452.8Z"/>
<path fill="#1469c7" d="M240.7 455.0L244.0 451.7L247.3 455.0L244.0 458.3Z"/>
<path fill="#1469c7" d="M225.6 460.5L228.9 457.2L232.2 460.5L228.9 463.8Z"/>
<path fill="#1469c7" d="M203.7 467.3L207.0 464.0L210.3 467.3L207.0 470.6Z"/>
<path fill="#1469c7" d="M180.2 474.3L183.5 471.0L186.8 474.3L183.5 477.6Z"/>
<path fill="#1469c7" d="M167.9 477.0L171.2 473.7L174.5 477.0L171.2 480.3Z"/>
<path fill="#1469c7" d="M130.7 486.7L134.0 483.4L137.3 486.7L134.0 490.0Z"/>
<path fill="#1469c7" d="M73.2 502.6L76.5 499.3L79.8 502.6L76.5 505.9Z"/>
<path fill="#1469c7" d="M66.3 507.2L69.6 503.9L72.9 507.2L69.6 510.5Z"/>
<polyline fill="none" stroke="#f07c2e" stroke-width="1.90" stroke-linejoin="round" stroke-linecap="round" points="69.6,368.2 74.5,368.6 93.3,376.4 109.4,384.0 125.9,389.6 147.8,396.5 162.5,400.5 185.9,406.8 201.5,410.2 216.6,413.8 231.7,426.2 235.8,433.0 227.5,437.1 234.4,438.5 235.0,443.0 231.4,446.8 220.7,455.0 200.0,463.2 176.7,471.6 141.0,479.8 116.3,484.5 103.9,489.4 94.3,492.1 84.7,498.2 76.5,503.7 69.6,507.2"/>
<rect fill="#f07c2e" x="66.5" y="365.1" width="6.2" height="6.2"/>
<rect fill="#f07c2e" x="71.4" y="365.5" width="6.2" height="6.2"/>
<rect fill="#f07c2e" x="90.2" y="373.3" width="6.2" height="6.2"/>
<rect fill="#f07c2e" x="106.3" y="380.9" width="6.2" height="6.2"/>
<rect fill="#f07c2e" x="122.8" y="386.5" width="6.2" height="6.2"/>
<rect fill="#f07c2e" x="144.7" y="393.4" width="6.2" height="6.2"/>
<rect fill="#f07c2e" x="159.4" y="397.4" width="6.2" height="6.2"/>
<rect fill="#f07c2e" x="182.8" y="403.7" width="6.2" height="6.2"/>
<rect fill="#f07c2e" x="198.4" y="407.1" width="6.2" height="6.2"/>
<rect fill="#f07c2e" x="213.5" y="410.7" width="6.2" height="6.2"/>
<rect fill="#f07c2e" x="228.6" y="423.1" width="6.2" height="6.2"/>
<rect fill="#f07c2e" x="232.7" y="429.9" width="6.2" height="6.2"/>
<rect fill="#f07c2e" x="224.4" y="434.0" width="6.2" height="6.2"/>
<rect fill="#f07c2e" x="231.3" y="435.4" width="6.2" height="6.2"/>
<rect fill="#f07c2e" x="231.9" y="439.9" width="6.2" height="6.2"/>
<rect fill="#f07c2e" x="228.3" y="443.7" width="6.2" height="6.2"/>
<rect fill="#f07c2e" x="217.6" y="451.9" width="6.2" height="6.2"/>
<rect fill="#f07c2e" x="196.9" y="460.1" width="6.2" height="6.2"/>
<rect fill="#f07c2e" x="173.6" y="468.5" width="6.2" height="6.2"/>
<rect fill="#f07c2e" x="137.9" y="476.7" width="6.2" height="6.2"/>
<rect fill="#f07c2e" x="113.2" y="481.4" width="6.2" height="6.2"/>
<rect fill="#f07c2e" x="100.8" y="486.3" width="6.2" height="6.2"/>
<rect fill="#f07c2e" x="91.2" y="489.0" width="6.2" height="6.2"/>
<rect fill="#f07c2e" x="81.6" y="495.1" width="6.2" height="6.2"/>
<rect fill="#f07c2e" x="73.4" y="500.6" width="6.2" height="6.2"/>
<rect fill="#f07c2e" x="66.5" y="504.1" width="6.2" height="6.2"/>
<polyline fill="none" stroke="#a5a5a5" stroke-width="1.90" stroke-linejoin="round" stroke-linecap="round" points="69.6,368.2 90.0,368.4 97.8,372.5 103.5,375.5 109.9,379.8 116.0,384.4 122.9,389.0 132.0,394.3 147.4,398.8 164.0,405.4 179.0,409.6 196.5,418.0 208.3,422.5 215.2,430.3 211.0,437.1 215.2,438.5 212.4,444.0 213.8,449.5 205.0,456.3 193.0,460.6 180.8,466.0 152.0,475.7 142.3,481.0 123.0,489.4 105.3,499.0 99.8,503.7 69.6,507.2"/>
<path fill="#a5a5a5" d="M69.6 364.9L72.9 371.5L66.3 371.5Z"/>
<path fill="#a5a5a5" d="M90.0 365.1L93.3 371.7L86.7 371.7Z"/>
<path fill="#a5a5a5" d="M97.8 369.2L101.1 375.8L94.5 375.8Z"/>
<path fill="#a5a5a5" d="M103.5 372.2L106.8 378.8L100.2 378.8Z"/>
<path fill="#a5a5a5" d="M109.9 376.5L113.2 383.1L106.6 383.1Z"/>
<path fill="#a5a5a5" d="M116.0 381.1L119.3 387.7L112.7 387.7Z"/>
<path fill="#a5a5a5" d="M122.9 385.7L126.2 392.3L119.6 392.3Z"/>
<path fill="#a5a5a5" d="M132.0 391.0L135.3 397.6L128.7 397.6Z"/>
<path fill="#a5a5a5" d="M147.4 395.5L150.7 402.1L144.1 402.1Z"/>
<path fill="#a5a5a5" d="M164.0 402.1L167.3 408.7L160.7 408.7Z"/>
<path fill="#a5a5a5" d="M179.0 406.3L182.3 412.9L175.7 412.9Z"/>
<path fill="#a5a5a5" d="M196.5 414.7L199.8 421.3L193.2 421.3Z"/>
<path fill="#a5a5a5" d="M208.3 419.2L211.6 425.8L205.0 425.8Z"/>
<path fill="#a5a5a5" d="M215.2 427.0L218.5 433.6L211.9 433.6Z"/>
<path fill="#a5a5a5" d="M211.0 433.8L214.3 440.4L207.7 440.4Z"/>
<path fill="#a5a5a5" d="M215.2 435.2L218.5 441.8L211.9 441.8Z"/>
<path fill="#a5a5a5" d="M212.4 440.7L215.7 447.3L209.1 447.3Z"/>
<path fill="#a5a5a5" d="M213.8 446.2L217.1 452.8L210.5 452.8Z"/>
<path fill="#a5a5a5" d="M205.0 453.0L208.3 459.6L201.7 459.6Z"/>
<path fill="#a5a5a5" d="M193.0 457.3L196.3 463.9L189.7 463.9Z"/>
<path fill="#a5a5a5" d="M180.8 462.7L184.1 469.3L177.5 469.3Z"/>
<path fill="#a5a5a5" d="M152.0 472.4L155.3 479.0L148.7 479.0Z"/>
<path fill="#a5a5a5" d="M142.3 477.7L145.6 484.3L139.0 484.3Z"/>
<path fill="#a5a5a5" d="M123.0 486.1L126.3 492.7L119.7 492.7Z"/>
<path fill="#a5a5a5" d="M105.3 495.7L108.6 502.3L102.0 502.3Z"/>
<path fill="#a5a5a5" d="M99.8 500.4L103.1 507.0L96.5 507.0Z"/>
<path fill="#a5a5a5" d="M69.6 503.9L72.9 510.5L66.3 510.5Z"/>
<polyline fill="none" stroke="#ffbe00" stroke-width="1.90" stroke-linejoin="round" stroke-linecap="round" points="69.6,368.2 112.0,368.2 119.0,374.5 125.9,382.7 134.0,388.0 142.3,391.0 147.4,393.0 161.2,404.0 175.0,409.6 191.4,419.2 196.0,424.0 199.6,428.8 201.0,439.7 198.2,448.0 191.4,456.3 179.4,464.7 163.0,473.0 146.5,481.0 135.5,486.7 125.9,494.9 117.6,503.0 112.0,507.2 69.6,507.2"/>
<path fill="none" stroke="#ffbe00" stroke-width="1.05" d="M66.5 365.1L72.7 371.3M66.5 371.3L72.7 365.1"/>
<path fill="none" stroke="#ffbe00" stroke-width="1.05" d="M77.1 365.1L83.3 371.3M77.1 371.3L83.3 365.1"/>
<path fill="none" stroke="#ffbe00" stroke-width="1.05" d="M87.7 365.1L93.9 371.3M87.7 371.3L93.9 365.1"/>
<path fill="none" stroke="#ffbe00" stroke-width="1.05" d="M98.3 365.1L104.5 371.3M98.3 371.3L104.5 365.1"/>
<path fill="none" stroke="#ffbe00" stroke-width="1.05" d="M108.9 365.1L115.1 371.3M108.9 371.3L115.1 365.1"/>
<path fill="none" stroke="#ffbe00" stroke-width="1.05" d="M115.9 371.4L122.1 377.6M115.9 377.6L122.1 371.4"/>
<path fill="none" stroke="#ffbe00" stroke-width="1.05" d="M122.8 379.6L129.0 385.8M122.8 385.8L129.0 379.6"/>
<path fill="none" stroke="#ffbe00" stroke-width="1.05" d="M130.9 384.9L137.1 391.1M130.9 391.1L137.1 384.9"/>
<path fill="none" stroke="#ffbe00" stroke-width="1.05" d="M139.2 387.9L145.4 394.1M139.2 394.1L145.4 387.9"/>
<path fill="none" stroke="#ffbe00" stroke-width="1.05" d="M144.3 389.9L150.5 396.1M144.3 396.1L150.5 389.9"/>
<path fill="none" stroke="#ffbe00" stroke-width="1.05" d="M151.2 395.4L157.4 401.6M151.2 401.6L157.4 395.4"/>
<path fill="none" stroke="#ffbe00" stroke-width="1.05" d="M158.1 400.9L164.3 407.1M158.1 407.1L164.3 400.9"/>
<path fill="none" stroke="#ffbe00" stroke-width="1.05" d="M165.0 403.7L171.2 409.9M165.0 409.9L171.2 403.7"/>
<path fill="none" stroke="#ffbe00" stroke-width="1.05" d="M171.9 406.5L178.1 412.7M171.9 412.7L178.1 406.5"/>
<path fill="none" stroke="#ffbe00" stroke-width="1.05" d="M180.1 411.3L186.3 417.5M180.1 417.5L186.3 411.3"/>
<path fill="none" stroke="#ffbe00" stroke-width="1.05" d="M188.3 416.1L194.5 422.3M188.3 422.3L194.5 416.1"/>
<path fill="none" stroke="#ffbe00" stroke-width="1.05" d="M192.9 420.9L199.1 427.1M192.9 427.1L199.1 420.9"/>
<path fill="none" stroke="#ffbe00" stroke-width="1.05" d="M196.5 425.7L202.7 431.9M196.5 431.9L202.7 425.7"/>
<path fill="none" stroke="#ffbe00" stroke-width="1.05" d="M197.9 436.6L204.1 442.8M197.9 442.8L204.1 436.6"/>
<path fill="none" stroke="#ffbe00" stroke-width="1.05" d="M195.1 444.9L201.3 451.1M195.1 451.1L201.3 444.9"/>
<path fill="none" stroke="#ffbe00" stroke-width="1.05" d="M188.3 453.2L194.5 459.4M188.3 459.4L194.5 453.2"/>
<path fill="none" stroke="#ffbe00" stroke-width="1.05" d="M182.3 457.4L188.5 463.6M182.3 463.6L188.5 457.4"/>
<path fill="none" stroke="#ffbe00" stroke-width="1.05" d="M176.3 461.6L182.5 467.8M176.3 467.8L182.5 461.6"/>
<path fill="none" stroke="#ffbe00" stroke-width="1.05" d="M168.1 465.8L174.3 472.0M168.1 472.0L174.3 465.8"/>
<path fill="none" stroke="#ffbe00" stroke-width="1.05" d="M159.9 469.9L166.1 476.1M159.9 476.1L166.1 469.9"/>
<path fill="none" stroke="#ffbe00" stroke-width="1.05" d="M151.7 473.9L157.8 480.1M151.7 480.1L157.8 473.9"/>
<path fill="none" stroke="#ffbe00" stroke-width="1.05" d="M143.4 477.9L149.6 484.1M143.4 484.1L149.6 477.9"/>
<path fill="none" stroke="#ffbe00" stroke-width="1.05" d="M137.9 480.8L144.1 487.0M137.9 487.0L144.1 480.8"/>
<path fill="none" stroke="#ffbe00" stroke-width="1.05" d="M132.4 483.6L138.6 489.8M132.4 489.8L138.6 483.6"/>
<path fill="none" stroke="#ffbe00" stroke-width="1.05" d="M127.6 487.7L133.8 493.9M127.6 493.9L133.8 487.7"/>
<path fill="none" stroke="#ffbe00" stroke-width="1.05" d="M122.8 491.8L129.0 498.0M122.8 498.0L129.0 491.8"/>
<path fill="none" stroke="#ffbe00" stroke-width="1.05" d="M118.7 495.8L124.8 502.1M118.7 502.1L124.8 495.8"/>
<path fill="none" stroke="#ffbe00" stroke-width="1.05" d="M114.5 499.9L120.7 506.1M114.5 506.1L120.7 499.9"/>
<path fill="none" stroke="#ffbe00" stroke-width="1.05" d="M108.9 504.1L115.1 510.3M108.9 510.3L115.1 504.1"/>
<path fill="none" stroke="#ffbe00" stroke-width="1.05" d="M98.3 504.1L104.5 510.3M98.3 510.3L104.5 504.1"/>
<path fill="none" stroke="#ffbe00" stroke-width="1.05" d="M87.7 504.1L93.9 510.3M87.7 510.3L93.9 504.1"/>
<path fill="none" stroke="#ffbe00" stroke-width="1.05" d="M77.1 504.1L83.3 510.3M77.1 510.3L83.3 504.1"/>
<path fill="none" stroke="#ffbe00" stroke-width="1.05" d="M66.5 504.1L72.7 510.3M66.5 510.3L72.7 504.1"/>
<polyline fill="none" stroke="#1e8fdc" stroke-width="1.90" stroke-linejoin="round" stroke-linecap="round" points="69.6,368.2 114.9,368.2 121.7,370.3 128.6,375.8 135.5,381.3 142.3,386.8 147.6,391.5 161.2,405.4 170.8,416.4 179.0,426.0 182.6,435.6 181.7,445.2 178.0,453.7 172.0,460.0 165.7,466.0 146.5,485.3 139.6,491.0 131.0,498.0 123.0,504.5 117.6,507.2 69.6,507.2"/>
<path fill="none" stroke="#1e8fdc" stroke-width="1.05" d="M66.5 365.1L72.7 371.3M66.5 371.3L72.7 365.1M69.6 365.1L69.6 371.3"/>
<path fill="none" stroke="#1e8fdc" stroke-width="1.05" d="M77.8 365.1L84.0 371.3M77.8 371.3L84.0 365.1M80.9 365.1L80.9 371.3"/>
<path fill="none" stroke="#1e8fdc" stroke-width="1.05" d="M89.2 365.1L95.3 371.3M89.2 371.3L95.3 365.1M92.2 365.1L92.2 371.3"/>
<path fill="none" stroke="#1e8fdc" stroke-width="1.05" d="M100.5 365.1L106.7 371.3M100.5 371.3L106.7 365.1M103.6 365.1L103.6 371.3"/>
<path fill="none" stroke="#1e8fdc" stroke-width="1.05" d="M111.8 365.1L118.0 371.3M111.8 371.3L118.0 365.1M114.9 365.1L114.9 371.3"/>
<path fill="none" stroke="#1e8fdc" stroke-width="1.05" d="M118.6 367.2L124.8 373.4M118.6 373.4L124.8 367.2M121.7 367.2L121.7 373.4"/>
<path fill="none" stroke="#1e8fdc" stroke-width="1.05" d="M125.5 372.7L131.7 378.9M125.5 378.9L131.7 372.7M128.6 372.7L128.6 378.9"/>
<path fill="none" stroke="#1e8fdc" stroke-width="1.05" d="M132.4 378.2L138.6 384.4M132.4 384.4L138.6 378.2M135.5 378.2L135.5 384.4"/>
<path fill="none" stroke="#1e8fdc" stroke-width="1.05" d="M139.2 383.7L145.4 389.9M139.2 389.9L145.4 383.7M142.3 383.7L142.3 389.9"/>
<path fill="none" stroke="#1e8fdc" stroke-width="1.05" d="M144.5 388.4L150.7 394.6M144.5 394.6L150.7 388.4M147.6 388.4L147.6 394.6"/>
<path fill="none" stroke="#1e8fdc" stroke-width="1.05" d="M151.3 395.3L157.5 401.6M151.3 401.6L157.5 395.3M154.4 395.3L154.4 401.6"/>
<path fill="none" stroke="#1e8fdc" stroke-width="1.05" d="M158.1 402.3L164.3 408.5M158.1 408.5L164.3 402.3M161.2 402.3L161.2 408.5"/>
<path fill="none" stroke="#1e8fdc" stroke-width="1.05" d="M162.9 407.8L169.1 414.0M162.9 414.0L169.1 407.8M166.0 407.8L166.0 414.0"/>
<path fill="none" stroke="#1e8fdc" stroke-width="1.05" d="M167.7 413.3L173.9 419.5M167.7 419.5L173.9 413.3M170.8 413.3L170.8 419.5"/>
<path fill="none" stroke="#1e8fdc" stroke-width="1.05" d="M171.8 418.1L178.0 424.3M171.8 424.3L178.0 418.1M174.9 418.1L174.9 424.3"/>
<path fill="none" stroke="#1e8fdc" stroke-width="1.05" d="M175.9 422.9L182.1 429.1M175.9 429.1L182.1 422.9M179.0 422.9L179.0 429.1"/>
<path fill="none" stroke="#1e8fdc" stroke-width="1.05" d="M179.5 432.5L185.7 438.7M179.5 438.7L185.7 432.5M182.6 432.5L182.6 438.7"/>
<path fill="none" stroke="#1e8fdc" stroke-width="1.05" d="M178.6 442.1L184.8 448.3M178.6 448.3L184.8 442.1M181.7 442.1L181.7 448.3"/>
<path fill="none" stroke="#1e8fdc" stroke-width="1.05" d="M174.9 450.6L181.1 456.8M174.9 456.8L181.1 450.6M178.0 450.6L178.0 456.8"/>
<path fill="none" stroke="#1e8fdc" stroke-width="1.05" d="M168.9 456.9L175.1 463.1M168.9 463.1L175.1 456.9M172.0 456.9L172.0 463.1"/>
<path fill="none" stroke="#1e8fdc" stroke-width="1.05" d="M162.6 462.9L168.8 469.1M162.6 469.1L168.8 462.9M165.7 462.9L165.7 469.1"/>
<path fill="none" stroke="#1e8fdc" stroke-width="1.05" d="M156.2 469.3L162.4 475.5M156.2 475.5L162.4 469.3M159.3 469.3L159.3 475.5"/>
<path fill="none" stroke="#1e8fdc" stroke-width="1.05" d="M149.8 475.8L156.0 482.0M149.8 482.0L156.0 475.8M152.9 475.8L152.9 482.0"/>
<path fill="none" stroke="#1e8fdc" stroke-width="1.05" d="M143.4 482.2L149.6 488.4M143.4 488.4L149.6 482.2M146.5 482.2L146.5 488.4"/>
<path fill="none" stroke="#1e8fdc" stroke-width="1.05" d="M136.5 487.9L142.7 494.1M136.5 494.1L142.7 487.9M139.6 487.9L139.6 494.1"/>
<path fill="none" stroke="#1e8fdc" stroke-width="1.05" d="M127.9 494.9L134.1 501.1M127.9 501.1L134.1 494.9M131.0 494.9L131.0 501.1"/>
<path fill="none" stroke="#1e8fdc" stroke-width="1.05" d="M119.9 501.4L126.1 507.6M119.9 507.6L126.1 501.4M123.0 501.4L123.0 507.6"/>
<path fill="none" stroke="#1e8fdc" stroke-width="1.05" d="M114.5 504.1L120.7 510.3M114.5 510.3L120.7 504.1M117.6 504.1L117.6 510.3"/>
<path fill="none" stroke="#1e8fdc" stroke-width="1.05" d="M104.9 504.1L111.1 510.3M104.9 510.3L111.1 504.1M108.0 504.1L108.0 510.3"/>
<path fill="none" stroke="#1e8fdc" stroke-width="1.05" d="M95.3 504.1L101.5 510.3M95.3 510.3L101.5 504.1M98.4 504.1L98.4 510.3"/>
<path fill="none" stroke="#1e8fdc" stroke-width="1.05" d="M85.7 504.1L91.9 510.3M85.7 510.3L91.9 504.1M88.8 504.1L88.8 510.3"/>
<path fill="none" stroke="#1e8fdc" stroke-width="1.05" d="M76.1 504.1L82.3 510.3M76.1 510.3L82.3 504.1M79.2 504.1L79.2 510.3"/>
<path fill="none" stroke="#1e8fdc" stroke-width="1.05" d="M66.5 504.1L72.7 510.3M66.5 510.3L72.7 504.1M69.6 504.1L69.6 510.3"/>
<line x1="283.3" y1="408.2" x2="302.9" y2="408.2" stroke="#1469c7" stroke-width="1.7"/>
<path fill="#1469c7" d="M290.6 408.2L293.5 405.3L296.4 408.2L293.5 411.1Z"/>
<text x="304.1" y="411.8" text-anchor="start" font-size="10.20" textLength="11.7" lengthAdjust="spacingAndGlyphs">1D</text>
<line x1="283.3" y1="426.9" x2="302.9" y2="426.9" stroke="#f07c2e" stroke-width="1.7"/>
<rect fill="#f07c2e" x="290.6" y="424.0" width="5.8" height="5.8"/>
<text x="304.1" y="430.5" text-anchor="start" font-size="10.20" textLength="11.7" lengthAdjust="spacingAndGlyphs">2D</text>
<line x1="283.3" y1="445.6" x2="302.9" y2="445.6" stroke="#a5a5a5" stroke-width="1.7"/>
<path fill="#a5a5a5" d="M293.5 442.7L296.4 448.5L290.6 448.5Z"/>
<text x="304.1" y="449.2" text-anchor="start" font-size="10.20" textLength="11.7" lengthAdjust="spacingAndGlyphs">3D</text>
<line x1="283.3" y1="464.3" x2="302.9" y2="464.3" stroke="#ffbe00" stroke-width="1.7"/>
<path fill="none" stroke="#ffbe00" stroke-width="1.05" d="M291.0 461.8L296.0 466.8M291.0 466.8L296.0 461.8"/>
<text x="304.1" y="467.9" text-anchor="start" font-size="10.20" textLength="11.7" lengthAdjust="spacingAndGlyphs">4D</text>
<line x1="283.3" y1="483.0" x2="302.9" y2="483.0" stroke="#1e8fdc" stroke-width="1.7"/>
<path fill="none" stroke="#1e8fdc" stroke-width="1.05" d="M291.0 480.5L296.0 485.5M291.0 485.5L296.0 480.5M293.5 480.5L293.5 485.5"/>
<text x="304.1" y="486.6" text-anchor="start" font-size="10.20" textLength="11.7" lengthAdjust="spacingAndGlyphs">5D</text>
<text x="131.0" y="166.2" style="font-family:'Liberation Serif',serif;fill:#111" font-size="9.3" textLength="66.8" lengthAdjust="spacingAndGlyphs">(<tspan font-weight="bold">a</tspan>) 1D Upstream</text>
<text x="140.1" y="354.3" style="font-family:'Liberation Serif',serif;fill:#111" font-size="9.3" textLength="48.8" lengthAdjust="spacingAndGlyphs">(<tspan font-weight="bold">b</tspan>) No-vane</text>
<text x="148.3" y="544.2" style="font-family:'Liberation Serif',serif;fill:#111" font-size="9.3" textLength="33.0" lengthAdjust="spacingAndGlyphs">(<tspan font-weight="bold">c</tspan>) Vane</text>
</svg>
</body></html>
